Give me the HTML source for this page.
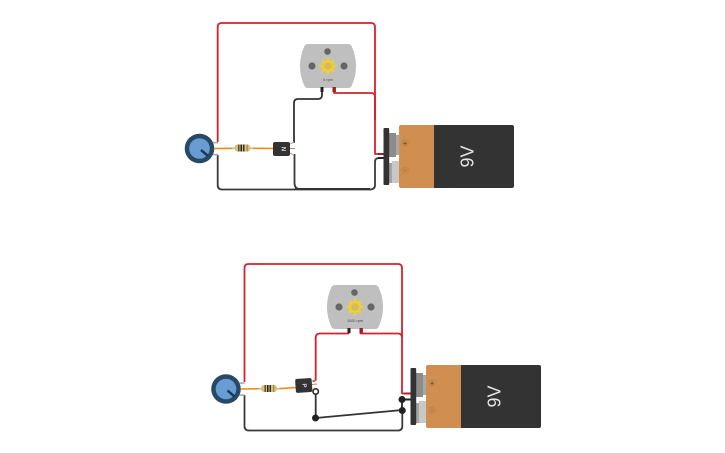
<!DOCTYPE html>
<html>
<head>
<meta charset="utf-8">
<style>
html,body{margin:0;padding:0;background:#fff;width:725px;height:453px;overflow:hidden}
svg{display:block}
text{font-family:"Liberation Sans",sans-serif}
</style>
</head>
<body>
<svg width="725" height="453" viewBox="0 0 725 453" xmlns="http://www.w3.org/2000/svg">
<defs>
<g id="gear">
  <g stroke="#f0cf30" stroke-width="2.200">
    <line x1="0" y1="-8.500" x2="0" y2="8.500"/>
    <line x1="-8.500" y1="0" x2="8.500" y2="0"/>
    <line x1="-6" y1="-6" x2="6" y2="6"/>
    <line x1="-6" y1="6" x2="6" y2="-6"/>
  </g>
  <circle r="6" fill="#f0cf30"/>
  <circle r="3.800" fill="#d4bd5c"/>
</g>
<g id="motorbody">
  <path d="M308 44 H348 Q351 44 352 47 Q356 56 356 66 Q356 76 352 85 Q351 88 348 88 H308 Q305 88 304 85 Q300 76 300 66 Q300 56 304 47 Q305 44 308 44 Z" fill="#bfbfbf"/>
  <circle cx="327.500" cy="51.500" r="3.300" fill="#666"/>
  <circle cx="312" cy="66" r="3.600" fill="#666"/>
  <circle cx="344" cy="66" r="3.600" fill="#666"/>
  <use href="#gear" transform="translate(328 66)"/>
  <rect x="320.500" y="87" width="3" height="5" fill="#222"/>
  <rect x="332.500" y="87" width="3.400" height="5" fill="#a02020"/>
</g>
<g id="battery">
  <rect x="389" y="133" width="7" height="24" fill="#8c8c8c"/>
  <rect x="396" y="135" width="3.500" height="20" fill="#a8a8a8"/>
  <rect x="389" y="163" width="3" height="20" fill="#a5a5a5"/>
  <rect x="392" y="161" width="7.500" height="22" fill="#c8c8c8"/>
  <rect x="383.500" y="128" width="5.700" height="57" rx="1" fill="#333"/>
  <path d="M401 125 H434 V188 H401 Q399 188 399 186 V127 Q399 125 401 125 Z" fill="#d08f50"/>
  <path d="M434 125 H512 Q514 125 514 127 V186 Q514 188 512 188 H434 Z" fill="#333"/>
  <circle cx="405" cy="143" r="3.500" fill="#c98a4c" stroke="#bd8146" stroke-width=".5"/>
  <circle cx="405" cy="170.500" r="3.500" fill="#c98a4c" stroke="#bd8146" stroke-width=".5"/>
  <text x="405" y="145.500" font-size="7" text-anchor="middle" fill="#4a3520">+</text>
  <text x="405" y="173" font-size="7" text-anchor="middle" fill="#7a5a38">-</text>
  <text transform="translate(473.500 156.500) rotate(-90)" font-size="18" text-anchor="middle" fill="#e4e4e4">9V</text>
</g>
<g id="pot">
  <circle cx="199.500" cy="148.500" r="14.800" fill="#264a66"/>
  <circle cx="199.500" cy="148.500" r="10.300" fill="#6a9cd4"/>
  <line x1="201" y1="150" x2="208" y2="156" stroke="#1e3a50" stroke-width="2.500"/>
  <rect x="213" y="141.800" width="5" height="1.600" fill="#aaa"/>
  <rect x="213" y="153.800" width="5" height="1.600" fill="#aaa"/>
</g>
<g id="resistor">
  <rect x="234.500" y="144.500" width="16" height="7" rx="3" fill="#d9bf80"/>
  <rect x="238" y="144.500" width="1.500" height="7" fill="#6a4a20"/>
  <rect x="240.500" y="144.500" width="1.500" height="7" fill="#222"/>
  <rect x="243" y="144.500" width="1.500" height="7" fill="#333"/>
  <rect x="246.500" y="144.500" width="1.300" height="7" fill="#b8862b"/>
  <line x1="232" y1="148.300" x2="235" y2="148.300" stroke="#bbb" stroke-width="1.500"/>
  <line x1="250" y1="148.300" x2="253" y2="148.300" stroke="#bbb" stroke-width="1.500"/>
</g>
</defs>

<!-- circuit 1 wires -->
<g fill="none" stroke-linejoin="round">
  <path d="M217.700 142 V27 Q217.700 23 221.700 23 H371 Q375 23 375 27 V154 H384" stroke="#d8202a" stroke-width="1.800"/>
  <path d="M334 90 V93 H371 Q375 93 375 97 V120" stroke="#d8202a" stroke-width="1.800"/>
  <path d="M217.700 155 V185 Q217.700 189.500 222 189.500 H370 Q375 189.500 375 185 V162 Q375 158 379 158 H384" stroke="#3a3a3a" stroke-width="1.800"/>
  <path d="M295 189 H370" stroke="#333" stroke-width="2"/>
  <path d="M294 143 V103 Q294 99 298 99 H318 Q322 99 322 95 V90" stroke="#333" stroke-width="1.800"/>
  <path d="M294.500 154 V183 Q294.500 189 300 189" stroke="#3a3a3a" stroke-width="1.800"/>
</g>
<line x1="378" y1="154" x2="384" y2="154" stroke="#a02020" stroke-width="2"/>
<line x1="378" y1="158" x2="384" y2="158" stroke="#222" stroke-width="2"/>

<!-- circuit 1 parts -->
<use href="#pot"/>
<line x1="214" y1="148.500" x2="233" y2="148.300" stroke="#ef8a12" stroke-width="1.600"/>
<line x1="252" y1="148.300" x2="274" y2="148.500" stroke="#ef8a12" stroke-width="1.600"/>
<use href="#resistor"/>
<rect x="273" y="142" width="17" height="14" rx="2" fill="#333"/>
<text x="0" y="0" font-size="6" font-weight="bold" text-anchor="middle" fill="#ddd" transform="translate(281.500 149) rotate(90)">N</text>
<line x1="290" y1="148.500" x2="295" y2="148.500" stroke="#b88a5a" stroke-width="1"/>
<path d="M290 144 L294 142 M290 153 L294 155" stroke="#aaa" stroke-width="1" fill="none"/>
<use href="#motorbody"/>
<text x="328" y="81" font-size="3.800" text-anchor="middle" fill="#444">0 rpm</text>
<use href="#battery"/>

<!-- circuit 2 wires -->
<g fill="none" stroke-linejoin="round">
  <path d="M244.500 382 V268 Q244.500 264 248.500 264 H398 Q402 264 402 268 V393.500 H411" stroke="#d8202a" stroke-width="1.800"/>
  <path d="M360.500 331 V333.500 H398 Q402 333.500 402 338" stroke="#d8202a" stroke-width="1.800"/>
  <path d="M348.500 331 V333.500 H320 Q315.700 333.500 315.700 338 V380 L313 381.500" stroke="#d8202a" stroke-width="1.800"/>
  <path d="M244.500 395 V426 Q244.500 430.500 249 430.500 H398 Q402.300 430.500 402.300 426 V410" stroke="#3a3a3a" stroke-width="1.800"/>
  <path d="M315.700 392 V418 L402.300 410" stroke="#333" stroke-width="1.800"/>
  <path d="M402 399.500 V410.500" stroke="#222" stroke-width="1.800"/>
</g>
<line x1="402" y1="399.500" x2="411" y2="399.500" stroke="#222" stroke-width="2"/>
<line x1="404" y1="393.500" x2="411" y2="393.500" stroke="#b02020" stroke-width="2"/>

<!-- circuit 2 parts -->
<g transform="translate(26.500 240.500)"><use href="#pot"/></g>
<line x1="241" y1="389" x2="260" y2="388.700" stroke="#ef8a12" stroke-width="1.600"/>
<line x1="279" y1="388.700" x2="296" y2="387.500" stroke="#ef8a12" stroke-width="1.600"/>
<g transform="translate(26.500 240.500)"><use href="#resistor"/></g>
<g transform="rotate(-4 303.500 385.500)">
  <rect x="295.500" y="378.500" width="16.500" height="14" rx="2" fill="#333"/>
  <text x="0" y="0" font-size="6" font-weight="bold" text-anchor="middle" fill="#ddd" transform="translate(302.500 385.500) rotate(90)">P</text>
</g>
<path d="M312 384.500 L317 384 M312 381 L315.700 380" stroke="#b88a5a" stroke-width="1" fill="none"/>
<g transform="translate(27 241)"><use href="#motorbody"/></g>
<text x="355" y="322" font-size="3.800" text-anchor="middle" fill="#444">1000 rpm</text>
<g transform="translate(27 240)"><use href="#battery"/></g>

<circle cx="315.700" cy="391.500" r="2.700" fill="#fff" stroke="#2a2a2a" stroke-width="1.600"/>
<circle cx="315.500" cy="418" r="3.500" fill="#222"/>
<circle cx="402" cy="399.500" r="3.500" fill="#222"/>
<circle cx="402.300" cy="410.500" r="3.500" fill="#222"/>
</svg>
</body>
</html>
